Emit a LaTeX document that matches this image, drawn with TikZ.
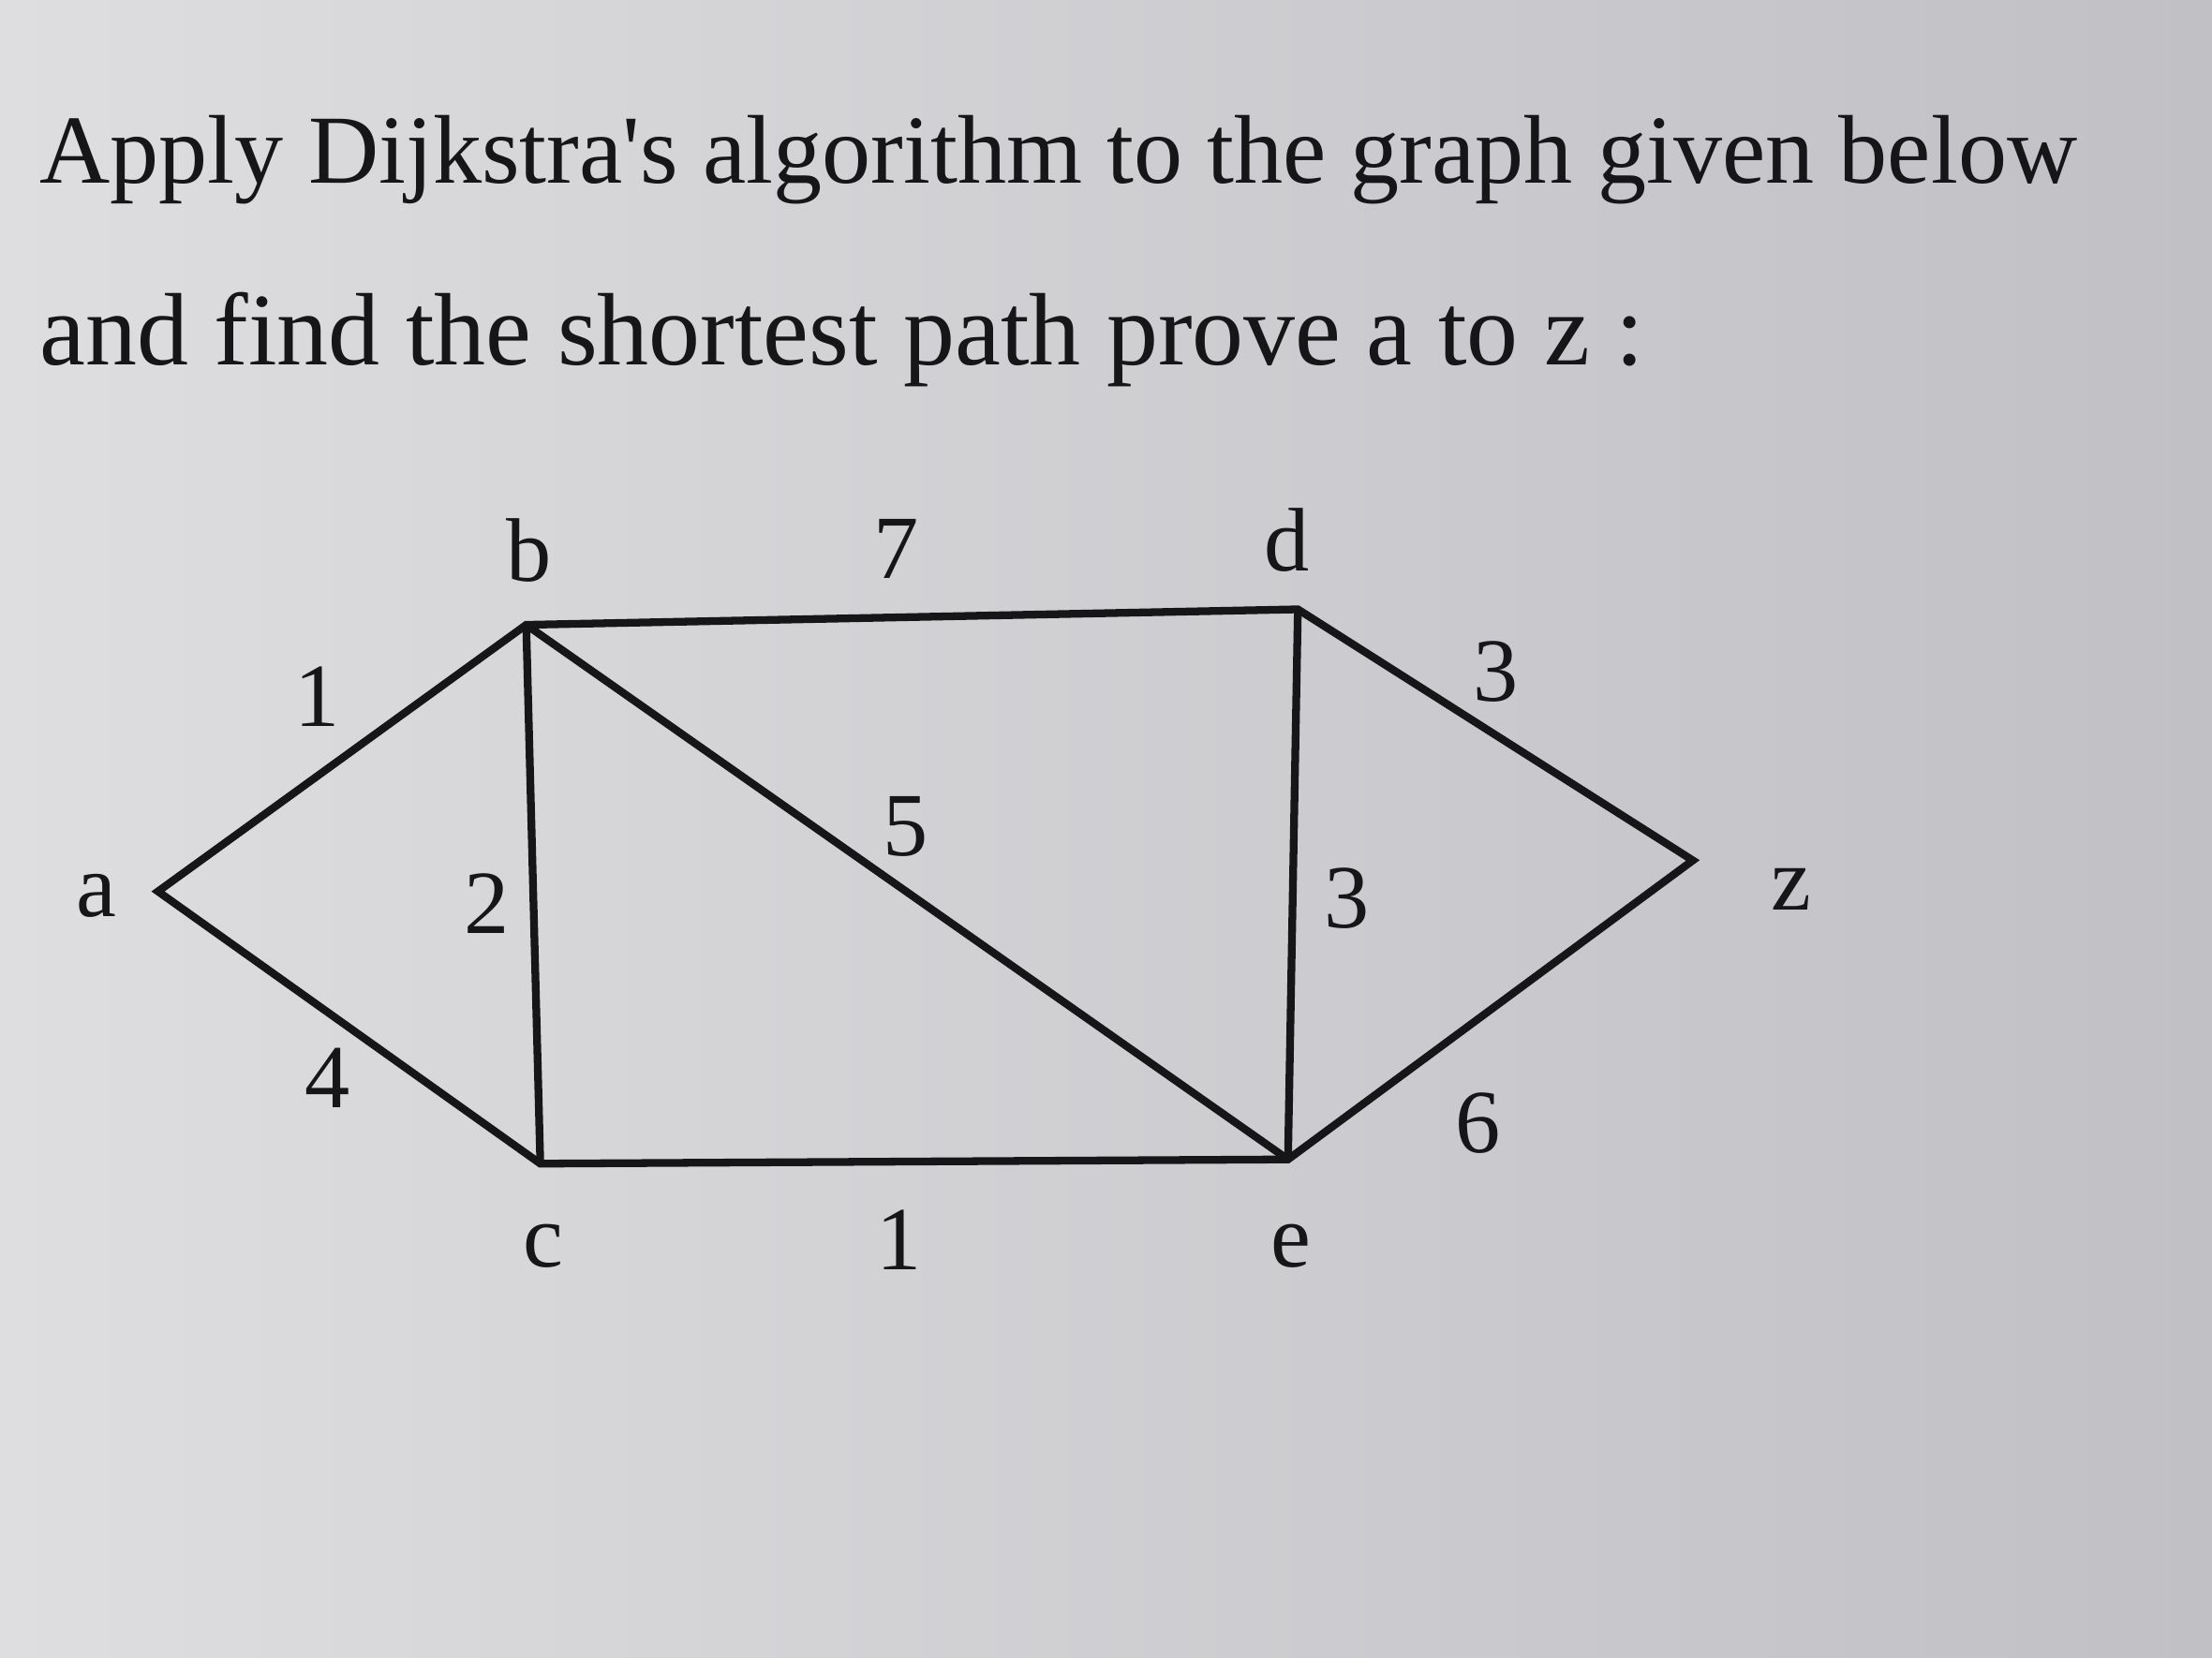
\documentclass[tikz,border=0pt]{standalone}
\usepackage{fontspec}
\setmainfont{Liberation Serif}[Ligatures=TeXOff]
\definecolor{paperL}{RGB}{222,222,224}
\definecolor{paperR}{RGB}{192,192,197}
\definecolor{ink}{RGB}{22,22,24}
\begin{document}
\begin{tikzpicture}[x=1pt,y=-1pt,
  edge/.style={draw=ink,line width=5.5pt,line join=miter},
  lbl/.style={anchor=base,inner sep=0pt,text=ink,font=\fontsize{64}{70}\selectfont},
  ttl/.style={anchor=base west,inner sep=0pt,text=ink}]
\useasboundingbox (0,0) rectangle (1568,1175);
\shade[left color=paperL,right color=paperR] (0,0) rectangle (1568,1175);
% title
\node[ttl,font=\fontsize{69.2}{80}\selectfont] (t1) at (28,130) {Apply Dijkstra's algorithm to the graph given below};
\node[ttl,font=\fontsize{73}{80}\selectfont] (t2) at (28,259) {and find the shortest path prove a to z :};
% vertices
\coordinate (a) at (112,632);
\coordinate (b) at (373,443);
\coordinate (d) at (920,432);
\coordinate (z) at (1200,610);
\coordinate (c) at (383,825);
\coordinate (e) at (913,822);
% edges
\draw[edge] (c) -- (a) -- (b) -- (d) -- (z) -- (e) -- (c) -- cycle;
\draw[edge] (b) -- (c);
\draw[edge] (b) -- (e);
\draw[edge] (d) -- (e);
% vertex labels
\node[lbl] (la) at (68,650) {a};
\node[lbl] (lb) at (375,412) {b};
\node[lbl] (ld) at (912,405) {d};
\node[lbl] (lz) at (1270,645) {z};
\node[lbl] (lc) at (385,898) {c};
\node[lbl] (le) at (915,898) {e};
% weights
\node[lbl] (wbd) at (635,410) {7};
\node[lbl] (wdz) at (1060,497) {3};
\node[lbl] (wab) at (225,515) {1};
\node[lbl] (wbe) at (642,607) {5};
\node[lbl] (wbc) at (345,662) {2};
\node[lbl] (wde) at (955,658) {3};
\node[lbl] (wac) at (232,785) {4};
\node[lbl] (wez) at (1048,817) {6};
\node[lbl] (wce) at (637,900) {1};
\end{tikzpicture}
\end{document}
